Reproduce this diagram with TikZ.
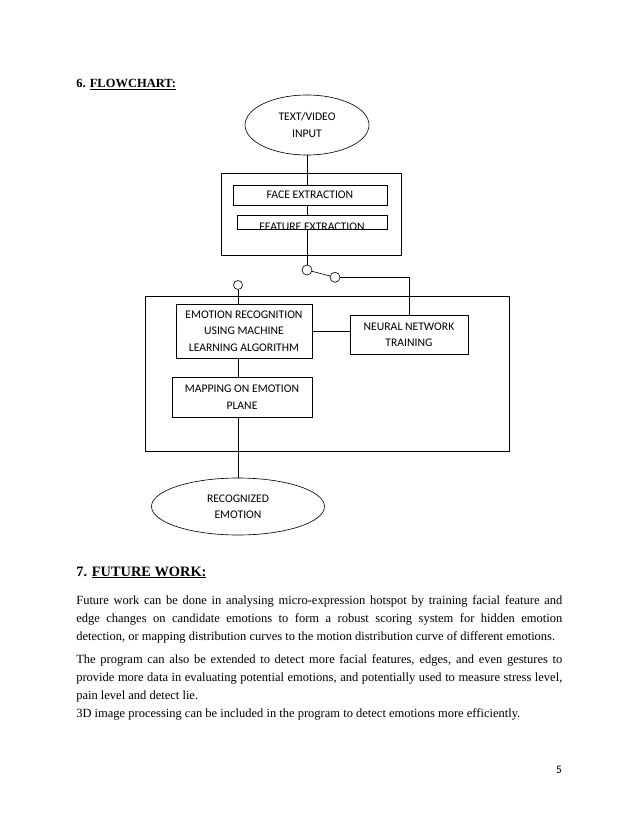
\documentclass[tikz,border=0pt]{standalone}
\usepackage{fontspec}
\setmainfont{Liberation Serif}
\newfontfamily\calibri{Carlito}
\usetikzlibrary{shapes.geometric}
\newcommand\pxu{0.96pt}
\begin{document}
\begin{tikzpicture}[x=0.96pt,y=-0.96pt, line width=0.6pt,
  fc/.style={font=\calibri\fontsize{11.2}{15.8}\selectfont, align=center, inner sep=0pt},
  sized/.style 2 args={minimum width=#1*\pxu, minimum height=#2*\pxu},
  box/.style={draw, rectangle, fc},
  oval/.style={draw, ellipse, fc},
  pin/.style={draw, circle, fill=white, inner sep=0pt, minimum size=#1*\pxu},
  body/.style={anchor=base west, inner sep=0pt, text width=486*\pxu, align=justify,
    font=\fontsize{12}{17.28}\selectfont}]
\useasboundingbox (0,0) rectangle (638,826);
\fill[white] (0,0) rectangle (638,826);

% headings
\node[anchor=base west, inner sep=0pt, font=\bfseries\fontsize{12}{14}\selectfont] (h6) at (76,88) {6. \underline{FLOWCHART:}};
\node[anchor=base west, inner sep=0pt, font=\bfseries\fontsize{13.8}{16}\selectfont] (h7) at (76,576) {7. \underline{FUTURE WORK:}};

% flowchart
\node[oval, sized={124}{60}] (in) at (307,125) {TEXT/VIDEO\\INPUT};
\node[draw, rectangle, sized={180}{82}] (grp1) at (311,214) {};
\node[box, sized={154}{20}] (face) at (310,195) {FACE EXTRACTION};
\node[box, sized={150}{14}] (feat) at (312,222) {};
\begin{scope}
  \clip (feat.south west) rectangle (feat.north east);
  \node[fc, anchor=base] (featt) at (312,230.3) {FEATURE EXTRACTION};
\end{scope}

\node[pin=10] (sw1) at (307,270) {};
\node[pin=10] (sw2) at (335,277.3) {};
\node[pin=9] (c3) at (238,285) {};

\node[draw, rectangle, sized={364}{155}] (grp2) at (327,373.5) {};
\node[box, sized={136}{54}] (emo) at (244,331) {EMOTION RECOGNITION\\USING MACHINE\\LEARNING ALGORITHM};
\node[box, sized={118}{39}] (nn) at (409,334.5) {NEURAL NETWORK\\TRAINING};
\node[box, sized={140}{40}] (map) at (242,397) {MAPPING ON EMOTION\\PLANE};
\node[oval, sized={173}{57}] (out) at (238,506.5) {RECOGNIZED\\EMOTION};

% connectors
\draw (in.south) -- (in.south |- face.north);
\draw (in.south |- face.south) -- (in.south |- feat.north);
\draw (in.south |- feat.south) -- (sw1.north);
\draw (sw1) -- (sw2);
\draw (sw2.east) -| (nn.north);
\draw (c3.south) -- (c3 |- emo.north);
\draw (emo.east) -- (emo.east -| nn.west);
\draw (c3 |- emo.south) -- (c3 |- map.north);
\draw (c3 |- map.south) -- (out.north);

% body text
\node[body] (p1) at (76,604) {Future work can be done in analysing micro-expression hotspot by training facial feature and\linebreak edge changes on candidate emotions to form a robust scoring system for hidden emotion\linebreak detection, or mapping distribution curves to the motion distribution curve of different emotions.};
\node[body] (p2) at (76,663) {The program can also be extended to detect more facial features, edges, and even gestures to\linebreak provide more data in evaluating potential emotions, and potentially used to measure stress level,\linebreak pain level and detect lie.};
\node[body] (p3) at (76,717) {3D image processing can be included in the program to detect emotions more efficiently.};

\node[anchor=base, inner sep=0pt, font=\calibri\fontsize{11}{13}\selectfont] (pg) at (559,773) {5};
\end{tikzpicture}
\end{document}
